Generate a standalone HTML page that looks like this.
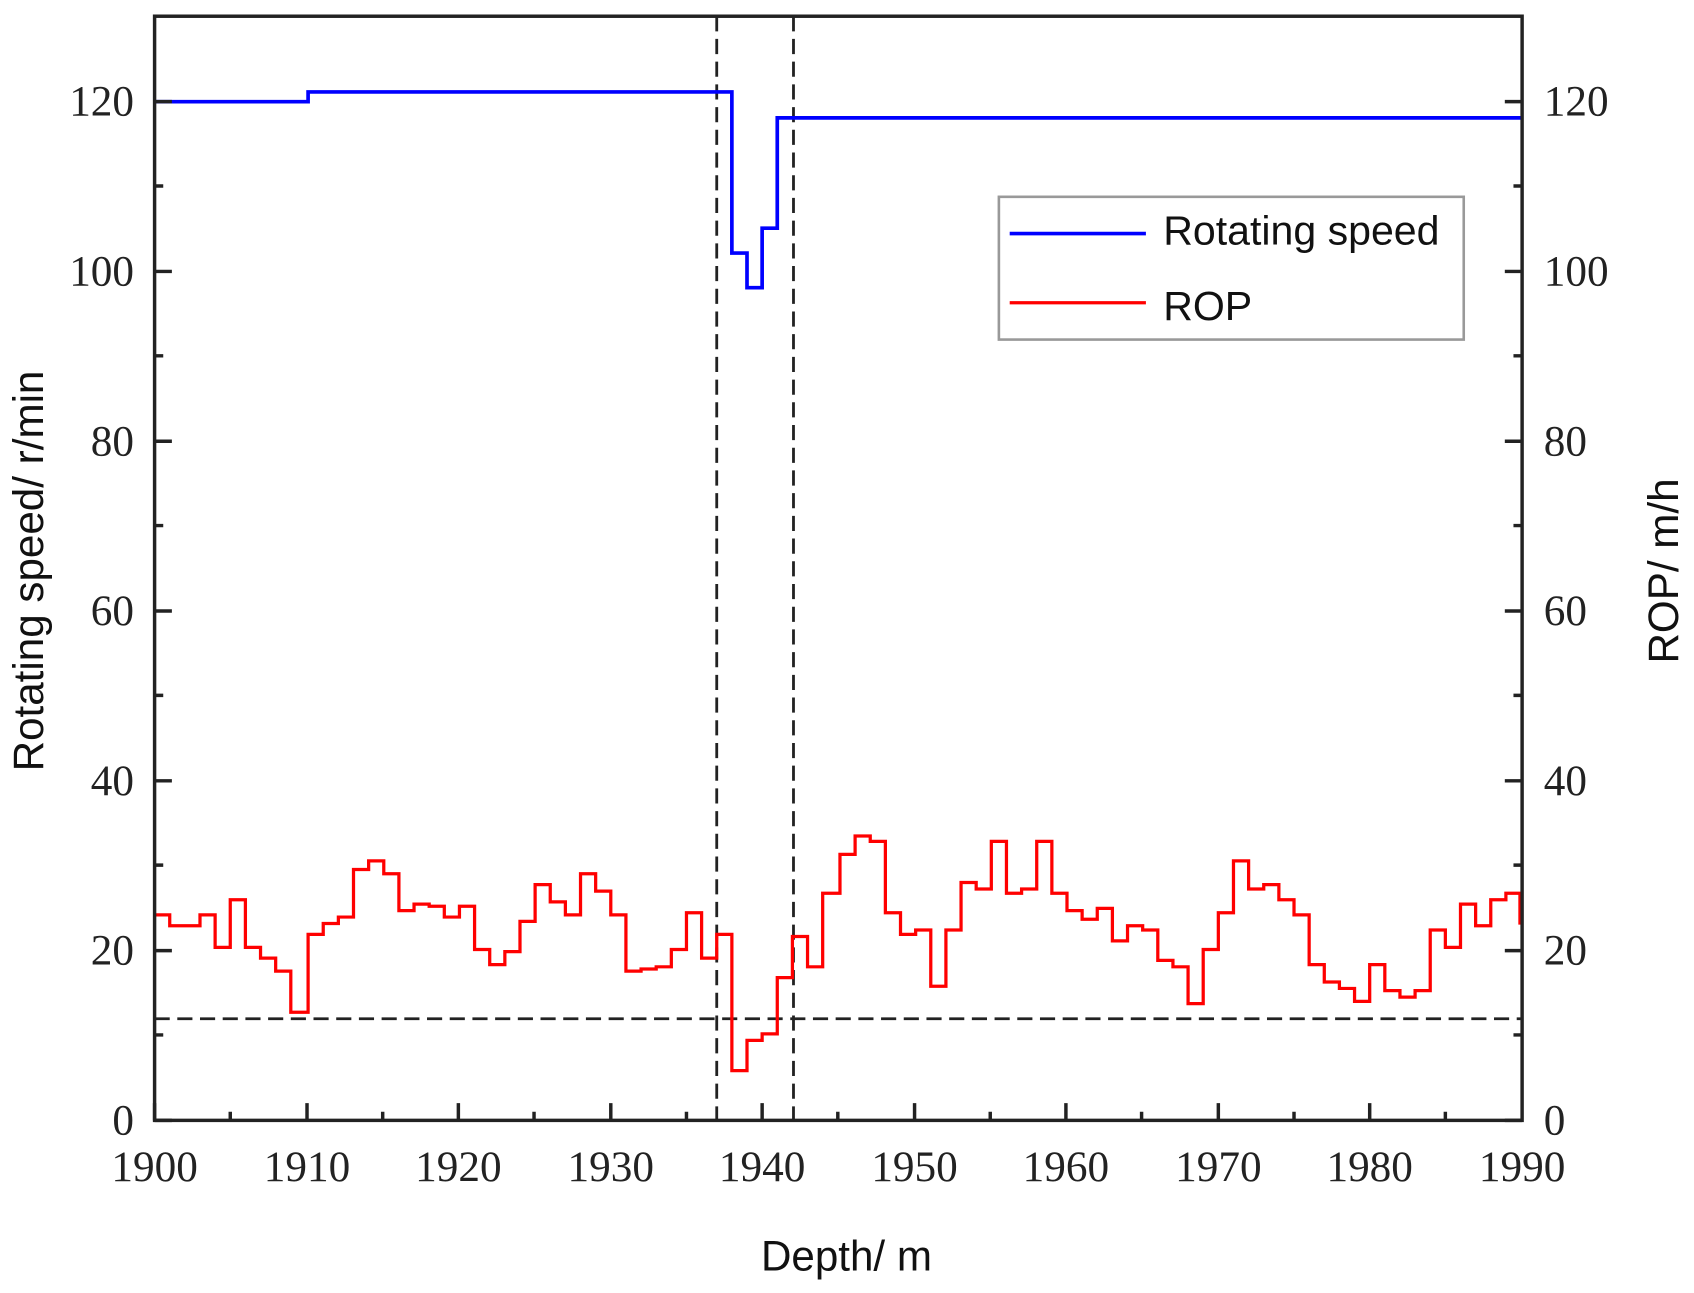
<!DOCTYPE html>
<html><head><style>body{margin:0;background:#fff}</style></head><body>
<svg width="1694" height="1288" viewBox="0 0 1567 1191" preserveAspectRatio="none" xmlns="http://www.w3.org/2000/svg">
<rect width="1567" height="1191" fill="#fff"/>
<g stroke="#222" stroke-width="2.6" stroke-dasharray="14,7" fill="none">
<line x1="663" y1="15" x2="663" y2="1036"/>
<line x1="734" y1="15" x2="734" y2="1036"/>
<line x1="143" y1="942" x2="1408" y2="942"/>
</g>
<polyline fill="none" stroke="#0000ff" stroke-width="3.4" points="143,94 285,94 285,85 677,85 677,234 691,234 691,266 705,266 705,211 719,211 719,109 1408,109"/>
<polyline fill="none" stroke="#ff0000" stroke-width="3" points="143,846 157,846 157,856 185,856 185,846 199,846 199,876 213,876 213,832 227,832 227,876 241,876 241,886 255,886 255,898 269,898 269,936 285,936 285,864 299,864 299,854 313,854 313,848 327,848 327,804 341,804 341,796 355,796 355,808 369,808 369,842 383,842 383,836 397,836 397,838 411,838 411,848 425,848 425,838 439,838 439,878 453,878 453,892 467,892 467,880 481,880 481,852 495,852 495,818 509,818 509,834 523,834 523,846 537,846 537,808 551,808 551,824 565,824 565,846 579,846 579,898 593,898 593,896 607,896 607,894 621,894 621,878 635,878 635,844 649,844 649,886 663,886 663,864 677,864 677,990 691,990 691,962 705,962 705,956 719,956 719,904 733,904 733,866 747,866 747,894 761,894 761,826 777,826 777,790 791,790 791,773 805,773 805,778 819,778 819,844 833,844 833,864 847,864 847,860 861,860 861,912 875,912 875,860 889,860 889,816 903,816 903,822 917,822 917,778 931,778 931,826 945,826 945,822 959,822 959,778 973,778 973,826 987,826 987,842 1001,842 1001,850 1015,850 1015,840 1029,840 1029,870 1043,870 1043,856 1057,856 1057,860 1071,860 1071,888 1085,888 1085,894 1099,894 1099,928 1113,928 1113,878 1127,878 1127,844 1141,844 1141,796 1155,796 1155,822 1169,822 1169,818 1183,818 1183,832 1197,832 1197,846 1211,846 1211,892 1225,892 1225,908 1239,908 1239,914 1253,914 1253,926 1267,926 1267,892 1281,892 1281,916 1295,916 1295,922 1309,922 1309,916 1323,916 1323,860 1337,860 1337,876 1351,876 1351,836 1365,836 1365,856 1379,856 1379,832 1393,832 1393,826 1406,826 1406,855"/>
<g stroke="#222" stroke-width="3.2" fill="none">
<rect x="143" y="15" width="1265" height="1021"/>
</g>
<g stroke="#222" stroke-width="3.2">
<path d="M143,1036v-16M284,1036v-16M424,1036v-16M565,1036v-16M705,1036v-16M846,1036v-16M986,1036v-16M1127,1036v-16M1267,1036v-16
M213,1036v-8M354,1036v-8M494,1036v-8M635,1036v-8M775,1036v-8M916,1036v-8M1056,1036v-8M1197,1036v-8M1337,1036v-8
M143,1036h16M143,879h16M143,722h16M143,565h16M143,408h16M143,251h16M143,94h16
M143,957h8M143,800h8M143,643h8M143,486h8M143,329h8M143,172h8
M1408,1036h-16M1408,879h-16M1408,722h-16M1408,565h-16M1408,408h-16M1408,251h-16M1408,94h-16
M1408,957h-8M1408,800h-8M1408,643h-8M1408,486h-8M1408,329h-8M1408,172h-8"/>
</g>
<g font-family="Liberation Serif, serif" font-size="40" fill="#222">
<g text-anchor="middle">
<text x="143" y="1092">1900</text><text x="284" y="1092">1910</text><text x="424" y="1092">1920</text><text x="565" y="1092">1930</text><text x="705" y="1092">1940</text><text x="846" y="1092">1950</text><text x="986" y="1092">1960</text><text x="1127" y="1092">1970</text><text x="1267" y="1092">1980</text><text x="1408" y="1092">1990</text>
</g>
<g text-anchor="end">
<text x="124" y="1049">0</text><text x="124" y="892">20</text><text x="124" y="735">40</text><text x="124" y="578">60</text><text x="124" y="421">80</text><text x="124" y="264">100</text><text x="124" y="107">120</text>
</g>
<g text-anchor="start">
<text x="1428" y="1049">0</text><text x="1428" y="892">20</text><text x="1428" y="735">40</text><text x="1428" y="578">60</text><text x="1428" y="421">80</text><text x="1428" y="264">100</text><text x="1428" y="107">120</text>
</g>
</g>
<g font-family="Liberation Sans, sans-serif" font-size="39" fill="#111">
<text x="783" y="1175" text-anchor="middle">Depth/ m</text>
<text transform="translate(40,528) rotate(-90)" text-anchor="middle">Rotating speed/ r/min</text>
<text transform="translate(1552,528) rotate(-90)" text-anchor="middle">ROP/ m/h</text>
</g>
<rect x="924" y="182" width="430" height="132" fill="#fff" stroke="#999" stroke-width="2.4"/>
<line x1="934" y1="216" x2="1060" y2="216" stroke="#0000ff" stroke-width="3.4"/>
<line x1="934" y1="280" x2="1060" y2="280" stroke="#ff0000" stroke-width="3"/>
<g font-family="Liberation Sans, sans-serif" font-size="38" fill="#111">
<text x="1076" y="226">Rotating speed</text>
<text x="1076" y="296">ROP</text>
</g>
</svg>
</body></html>
